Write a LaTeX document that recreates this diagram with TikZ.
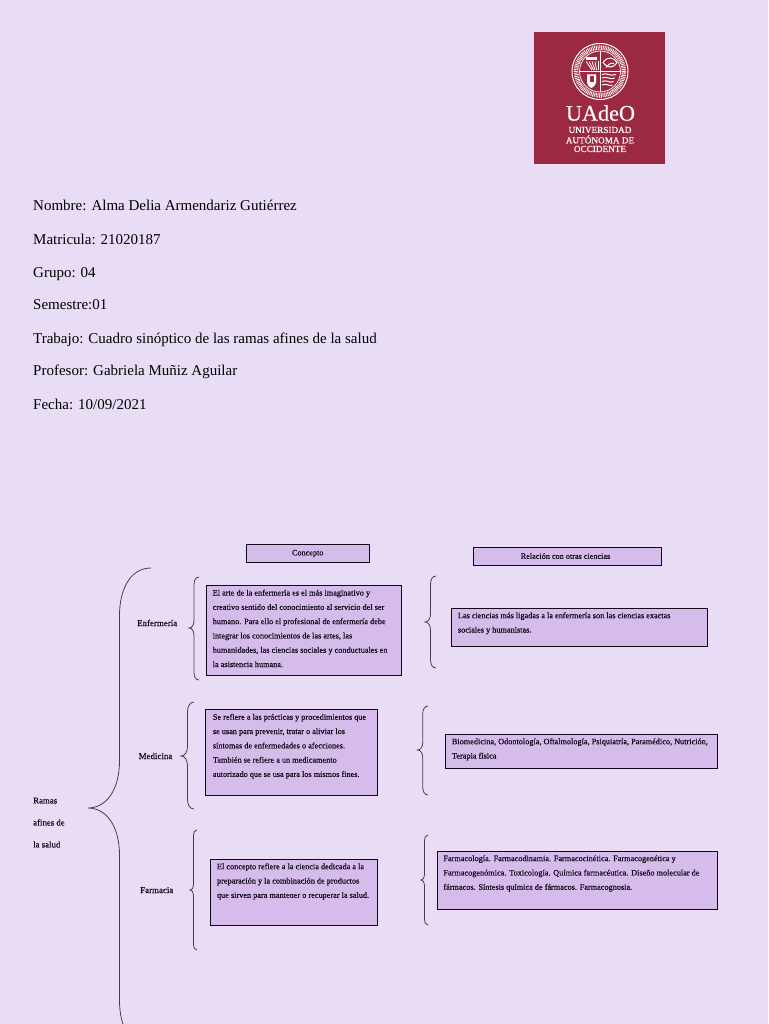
\documentclass[tikz,border=0pt]{standalone}
\usepackage{fontspec}
\setmainfont{Liberation Serif}
\newfontfamily\negrita[FakeBold=0.35]{Liberation Serif}
\usetikzlibrary{calc, positioning}
\definecolor{uadeofondo}{RGB}{233,221,245}
\definecolor{uadeocaja}{RGB}{213,188,235}
\definecolor{uadeorojo}{RGB}{155,41,66}
\definecolor{uadeotinta}{RGB}{15,8,25}
\definecolor{uadeollave}{RGB}{70,62,80}
\tikzset{
    cuadro/.style={draw=uadeotinta, line width=1pt, fill=uadeocaja, anchor=north west, inner sep=0pt},
    texto/.style={text=uadeotinta, inner sep=0pt, align=left, font=\negrita\fontsize{8.25}{14.3}\selectfont},
    titulo/.style={text=uadeotinta, inner sep=0pt, font=\negrita\fontsize{8.2}{10}\selectfont},
    rama/.style={text=uadeotinta, inner sep=0pt, anchor=base west, font=\negrita\fontsize{8.9}{10}\selectfont},
    dato/.style={text=black, inner sep=0pt, anchor=base west, font=\fontsize{15}{16}\selectfont},
    llavelinea/.style={draw=uadeollave, line width=0.8pt},
    escudo/.style={draw=white, line width=0.7pt},
    letrero/.style={text=white, inner sep=0pt, font=\negrita\fontsize{9.2}{9.7}\selectfont}
}
\newcommand{\llave}[3]{
    \draw[llavelinea] let \p1=(#1), \p2=(#2), \p3=(#3),
        \n1={(\x1+\x2)/2}, \n2={(\x1-\x2)/2}, \n3={1.5*(\x1-\x2)/2} in
        (\x1,\y1) .. controls ({\n1+0.3*\n2},\y1) and (\n1,{\y1-0.5*\n3}) .. (\n1,{\y1-\n3})
        -- (\n1,{\y2+\n3}) .. controls (\n1,{\y2+0.4*\n3}) and ({\n1-0.4*\n2},\y2) .. (\x2,\y2)
        .. controls ({\n1-0.4*\n2},\y2) and (\n1,{\y2-0.4*\n3}) .. (\n1,{\y2-\n3})
        -- (\n1,{\y3+\n3}) .. controls (\n1,{\y3+0.5*\n3}) and ({\n1+0.3*\n2},\y3) .. (\x3,\y3);
}
\begin{document}
\begin{tikzpicture}[x=1pt, y=-1pt]
    \clip (0,0) rectangle (768,1024);
    \fill[uadeofondo] (0,0) rectangle (768,1024);

    % Logo
    \node[fill=uadeorojo, minimum width=131pt, minimum height=132pt, inner sep=0pt, anchor=north west] (logo) at (534,32) {};
    \node[draw=white, line width=1pt, circle, minimum size=56pt, inner sep=0pt] (sello) at (600,71.5) {};
    \draw[white, line width=4.5pt, dash pattern=on 0.8pt off 0.9pt] (sello.center) circle (24pt);
    \draw[escudo] (sello.center) circle (20.5pt);
    \draw[escudo] ($(sello.center)+(-20.5,0)$) -- ($(sello.center)+(20.5,0)$);
    \draw[escudo] ($(sello.center)+(0,-20.5)$) -- ($(sello.center)+(0,20.5)$);
    % Rayos
    \foreach \k in {-14,-11,-8,-5,-2}
        \draw[white, line width=0.8pt] ($(sello.center)+(\k/2-1,-1.5)$) -- ($(sello.center)+(\k,-10)$);
    \fill[white] ($(sello.center)+(-14,-11)$) rectangle ($(sello.center)+(-3,-14)$);
    % Pez
    \draw[white, line width=1pt] ($(sello.center)+(3,-9)$) .. controls ($(sello.center)+(8,-16)$) and ($(sello.center)+(14,-14)$) .. ($(sello.center)+(17,-9)$)
        .. controls ($(sello.center)+(13,-3)$) and ($(sello.center)+(8,-3)$) .. ($(sello.center)+(3,-9)$);
    \draw[white, line width=1pt] ($(sello.center)+(6,-4)$) .. controls ($(sello.center)+(10,-9)$) and ($(sello.center)+(12,-9)$) .. ($(sello.center)+(14,-8)$);
    % Blason
    \fill[white] ($(sello.center)+(-13,3)$) -- ($(sello.center)+(-4,3)$) -- ($(sello.center)+(-4,11)$)
        .. controls ($(sello.center)+(-5,15)$) and ($(sello.center)+(-8,16)$) .. ($(sello.center)+(-8.5,16.5)$)
        .. controls ($(sello.center)+(-10,16)$) and ($(sello.center)+(-12,15)$) .. ($(sello.center)+(-13,11)$) -- cycle;
    \fill[uadeorojo] ($(sello.center)+(-10.5,5)$) rectangle ($(sello.center)+(-6.5,11)$);
    % Olas
    \foreach \k in {3,6.5,10,13.5}
        \draw[white, line width=1pt] ($(sello.center)+(2,\k)$) .. controls ($(sello.center)+(7,\k-2.5)$) and ($(sello.center)+(10,\k+2.5)$) .. ($(sello.center)+(17-\k/3,\k)$);
    \node[text=white, inner sep=0pt, font=\negrita\fontsize{22.2}{25}\selectfont] (siglas) at (600.5,113) {UAdeO};
    \node[letrero] (uni) at (600,130) {UNIVERSIDAD};
    \node[letrero] (auto) at (600,139.5) {AUTÓNOMA DE};
    \node[letrero] (occi) at (600,149) {OCCIDENTE};

    % Datos
    \node[dato] (nombre) at (33,211) {Nombre: Alma Delia Armendariz Gutiérrez};
    \node[dato] (matricula) at (33,244) {Matricula: 21020187};
    \node[dato] (grupo) at (33,277) {Grupo: 04};
    \node[dato] (semestre) at (33,309.5) {Semestre:01};
    \node[dato] (trabajo) at (33,343) {Trabajo: Cuadro sinóptico de las ramas afines de la salud};
    \node[dato] (profesor) at (33,375) {Profesor: Gabriela Muñiz Aguilar};
    \node[dato] (fecha) at (33,409) {Fecha: 10/09/2021};

    % Encabezados
    \node[cuadro, minimum width=123pt, minimum height=18pt] (concepto) at (245.7,544) {};
    \node[titulo] at (concepto.center) {Concepto};
    \node[cuadro, minimum width=188pt, minimum height=18pt] (relacion) at (473,546.5) {};
    \node[titulo, xshift=-2pt] at (relacion.center) {Relación con otras ciencias};

    % Raiz
    \node[texto, anchor=north west, font=\negrita\fontsize{8.8}{22}\selectfont] (ramas) at (33,797.5) {Ramas\\afines de\\la salud};
    \coordinate (raiztop) at (151,568);
    \coordinate (raiztip) at (88,808);
    \coordinate (raizbot) at (151,1048);
    \llave{raiztop}{raiztip}{raizbot}

    % Enfermeria
    \node[rama] (enfermeria) at (137,626) {Enfermería};
    \coordinate (enftop) at (199,577);
    \coordinate (enftip) at (189,628);
    \coordinate (enfbot) at (199,680);
    \llave{enftop}{enftip}{enfbot}
    \node[cuadro, minimum width=195pt, minimum height=90pt] (enfbox) at (205.5,585) {};
    \node[texto, below right=4.5pt and 7pt of enfbox.north west] (enftxt) {El arte de la enfermería es el más imaginativo y\\creativo sentido del conocimiento al servicio del ser\\humano. Para ello el profesional de enfermería debe\\integrar los conocimientos de las artes, las\\humanidades, las ciencias sociales y conductuales en\\la asistencia humana.};
    \coordinate (reltop) at (436,576);
    \coordinate (reltip) at (425,622);
    \coordinate (relbot) at (436,668);
    \llave{reltop}{reltip}{relbot}
    \node[cuadro, minimum width=256pt, minimum height=38pt] (relbox) at (450.7,607.7) {};
    \node[texto, below right=4.5pt and 7pt of relbox.north west] (reltxt) {Las ciencias más ligadas a la enfermería son las ciencias exactas\\sociales y humanistas.};

    % Medicina
    \node[rama] (medicina) at (138.5,759) {Medicina};
    \coordinate (medtop) at (194,702);
    \coordinate (medtip) at (181,756);
    \coordinate (medbot) at (194,809);
    \llave{medtop}{medtip}{medbot}
    \node[cuadro, minimum width=172pt, minimum height=86pt] (medbox) at (205.2,709.2) {};
    \node[texto, below right=4.5pt and 7.5pt of medbox.north west] (medtxt) {Se refiere a las prácticas y procedimientos que\\se usan para prevenir, tratar o aliviar los\\síntomas de enfermedades o afecciones.\\También se refiere a un medicamento\\autorizado que se usa para los mismos fines.};
    \coordinate (cientop) at (428,706);
    \coordinate (ciemtip) at (417.5,750);
    \coordinate (ciembot) at (428,795);
    \llave{cientop}{ciemtip}{ciembot}
    \node[cuadro, minimum width=272pt, minimum height=34pt] (ciembox) at (444.7,733.7) {};
    \node[texto, below right=4.5pt and 7pt of ciembox.north west] (ciemtxt) {Biomedicina, Odontología, Oftalmología, Psiquiatría, Paramédico, Nutrición,\\Terapia física};

    % Farmacia
    \node[rama] (farmacia) at (140,893) {Farmacia};
    \coordinate (fartop) at (197,830);
    \coordinate (fartip) at (190,890);
    \coordinate (farbot) at (197,950);
    \llave{fartop}{fartip}{farbot}
    \node[cuadro, minimum width=167pt, minimum height=66pt] (farbox) at (210.3,858.7) {};
    \node[texto, below right=4.5pt and 6.5pt of farbox.north west] (fartxt) {El concepto refiere a la ciencia dedicada a la\\preparación y la combinación de productos\\que sirven para mantener o recuperar la salud.};
    \coordinate (quitop) at (428,835);
    \coordinate (quitip) at (421,880);
    \coordinate (quibot) at (428,925);
    \llave{quitop}{quitip}{quibot}
    \node[cuadro, minimum width=280pt, minimum height=58pt] (quibox) at (436.7,850.7) {};
    \node[texto, below right=4.5pt and 6.5pt of quibox.north west] (quitxt) {Farmacología. Farmacodinamia. Farmacocinética. Farmacogenética y\\Farmacogenómica. Toxicología. Química farmacéutica. Diseño molecular de\\fármacos. Síntesis química de fármacos. Farmacognosia.};
\end{tikzpicture}
\end{document}
